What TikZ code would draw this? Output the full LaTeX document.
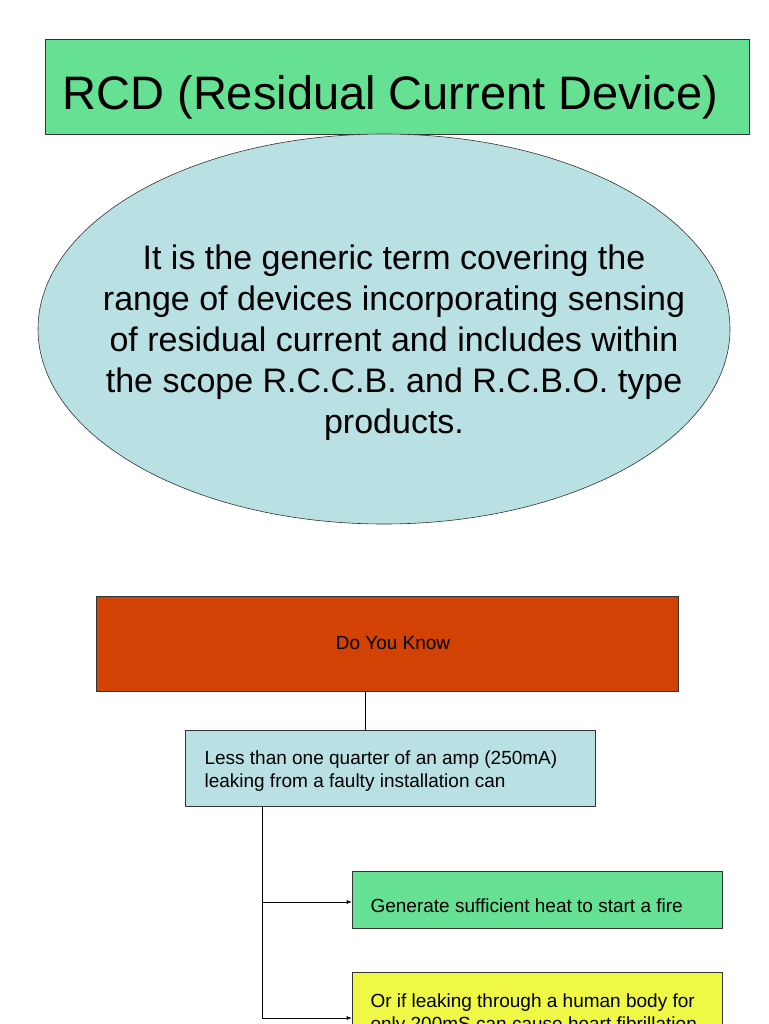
\documentclass[tikz,border=0pt]{standalone}
\usepackage{fontspec}
\setmainfont{Liberation Sans}
\usetikzlibrary{arrows.meta,shapes.geometric}
\definecolor{tgreen}{HTML}{66E093}
\definecolor{tblue}{HTML}{B9E0E3}
\definecolor{torange}{HTML}{D24204}
\definecolor{tyellow}{HTML}{EEF845}
\begin{document}
\begin{tikzpicture}[x=1pt,y=-1pt,
  boxs/.style={draw=black!80,line width=0.6pt,inner sep=0pt},
  conn/.style={draw=black,line width=0.6pt},
  arr/.style={conn,-{Latex[length=5pt,width=4pt]}}]
\useasboundingbox (0,0) rectangle (768,1024);
\clip (0,0) rectangle (768,1024);
\node[boxs,fill=tgreen,minimum width=704pt,minimum height=95pt] (title) at (397,86.5) {};
\node[anchor=west,font=\fontsize{47}{52}\selectfont] (tt) at (59,97) {RCD (Residual Current Device)};
\node[draw=black!80,line width=0.6pt,fill=tblue,ellipse,minimum width=692pt,minimum height=390pt,inner sep=0pt] (ell) at (384,329) {};
\node[align=center,font=\fontsize{34}{41}\selectfont] (et) at (394,343) {It is the generic term covering the\\range of devices incorporating sensing\\of residual current and includes within\\the scope R.C.C.B. and R.C.B.O. type\\products.};
\node[boxs,fill=torange,minimum width=582pt,minimum height=95pt] (dyk) at (387,643.5) {};
\node[font=\fontsize{19}{22}\selectfont] (dykt) at (393,643) {Do You Know};
\node[boxs,fill=tblue,minimum width=410pt,minimum height=76pt] (less) at (390,768) {};
\node[anchor=west,align=left,font=\fontsize{19}{23}\selectfont] (lesst) at (201,771) {Less than one quarter of an amp (250mA)\\leaking from a faulty installation can};
\node[boxs,fill=tgreen,minimum width=370pt,minimum height=57pt] (fire) at (537,899.5) {};
\node[anchor=west,font=\fontsize{19}{22}\selectfont] (firet) at (367,906) {Generate sufficient heat to start a fire};
\node[boxs,fill=tyellow,minimum width=370pt,minimum height=100pt] (body) at (537,1022) {};
\node[anchor=north west,align=left,font=\fontsize{19}{23}\selectfont] (bodyt) at (367,990) {Or if leaking through a human body for\\only 200mS can cause heart fibrillation};
\draw[conn] (dyk.south -| 365,0) -- (less.north -| 365,0);
\coordinate (v1) at (262,806);
\coordinate (v2) at (262,1018);
\draw[conn] (v1) -- (v2);
\draw[arr] (262,902) -- (fire.west |- 262,902);
\draw[arr] (v2) -- (body.west |- v2);
\end{tikzpicture}
\end{document}
